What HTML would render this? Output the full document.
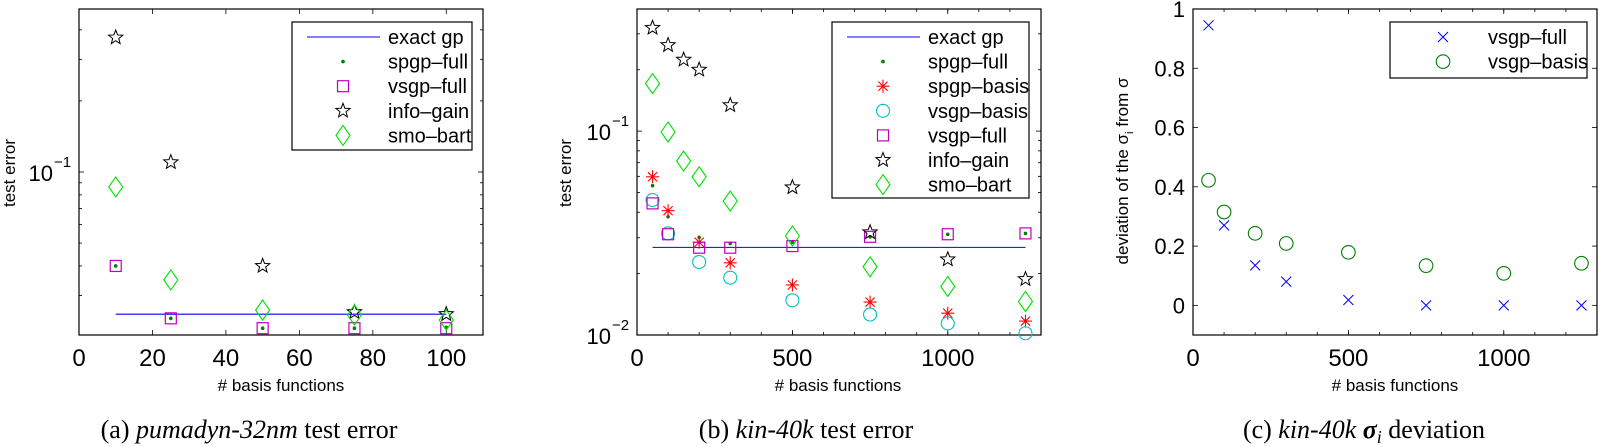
<!DOCTYPE html>
<html><head><meta charset="utf-8"><style>
body{margin:0;background:#fff;}
svg{display:block;font-family:"Liberation Sans",sans-serif;}
</style></head><body>
<svg id="s" width="1620" height="447" viewBox="0 0 1620 447" xmlns="http://www.w3.org/2000/svg"></svg>
<script>
// ---- panel a data ----
const aX = [10, 25, 50, 75, 100];
const aExact = 0.025;
const aSpgpFull = [0.040, 0.024, 0.0218, 0.0218, 0.022];
const aVsgpFull = [0.040, 0.024, 0.0218, 0.0218, 0.0218];
const aInfoGain = [0.371, 0.110, 0.040, 0.0255, 0.025];
const aSmoBart = [0.0864, 0.0349, 0.026, 0.0248, 0.0236];
// ---- panel b data ----
const bX = [50, 100, 200, 300, 500, 750, 1000, 1250];
const bXstar = [50, 100, 150, 200, 300, 500, 750, 1000, 1250];
const bExact = 0.0269;
const bSpgpFull = [0.054, 0.038, 0.0301, 0.0281, 0.0285, 0.0303, 0.0312, 0.0315];
const bSpgpBasis = [0.0597, 0.0407, 0.0285, 0.0226, 0.0176, 0.0145, 0.0128, 0.0117];
const bVsgpBasis = [0.0459, 0.0315, 0.0228, 0.0191, 0.0148, 0.0126, 0.0114, 0.0102];
const bVsgpFull = [0.0442, 0.0312, 0.0268, 0.0268, 0.0273, 0.0303, 0.0312, 0.0315];
const bInfoGain = [0.321, 0.264, 0.224, 0.2, 0.134, 0.053, 0.0319, 0.0235, 0.0188];
const bSmoBart = [0.171, 0.099, 0.0713, 0.0597, 0.0454, 0.0306, 0.0216, 0.0173, 0.0146];
// ---- panel c data ----
const cX = [50, 100, 200, 300, 500, 750, 1000, 1250];
const cVsgpFull = [0.945, 0.27, 0.135, 0.08, 0.018, 0, 0, 0];
const cVsgpBasis = [0.422, 0.315, 0.243, 0.209, 0.179, 0.134, 0.108, 0.142];
// tick labels
const aXTicks = [0, 20, 40, 60, 80, 100];
const bXTicks = [0, 500, 1000];
const cXTicks = [0, 500, 1000];
const cYTicks = [0, 0.2, 0.4, 0.6, 0.8, 1];

const NS = "http://www.w3.org/2000/svg";
const svg = document.getElementById('s');
function el(tag, attrs, parent, name) {
  const e = document.createElementNS(NS, tag);
  for (const k in attrs) e.setAttribute(k, attrs[k]);
  
  
  (parent || svg).appendChild(e);
  return e;
}
function marker(type, x, y, g, name) {
  const m = el('g', {}, g, name);
  if (type === 'dot') el('circle', {cx:x, cy:y, r:1.8, fill:'#007f00'}, m, name+'-dot');
  else if (type === 'square') el('rect', {x:x-5.5, y:y-5.5, width:11, height:11, fill:'none', stroke:'#bf00bf', 'stroke-width':1.2}, m, name+'-square');
  else if (type === 'circle') el('circle', {cx:x, cy:y, r:6.5, fill:'none', stroke:'#00bfbf', 'stroke-width':1.1}, m, name+'-circle');
  else if (type === 'gcircle') el('circle', {cx:x, cy:y, r:6.8, fill:'none', stroke:'#007f00', 'stroke-width':1.1}, m, name+'-circle');
  else if (type === 'diamond') el('path', {d:`M${x} ${y-10}L${x+7} ${y}L${x} ${y+10}L${x-7} ${y}Z`, fill:'none', stroke:'#00e000', 'stroke-width':1.1}, m, name+'-diamond');
  else if (type === 'star') {
    let d = '';
    for (let i = 0; i < 10; i++) {
      const r = i % 2 ? 3.2 : 7.5, a = -Math.PI/2 + i*Math.PI/5;
      d += (i ? 'L' : 'M') + (x + r*Math.cos(a)).toFixed(2) + ' ' + (y + r*Math.sin(a)).toFixed(2);
    }
    el('path', {d:d+'Z', fill:'none', stroke:'#000', 'stroke-width':1}, m, name+'-star');
  } else if (type === 'ast') {
    let d = '';
    for (let i = 0; i < 4; i++) {
      const a = i*Math.PI/4;
      d += `M${x-6.5*Math.cos(a)} ${y-6.5*Math.sin(a)}L${x+6.5*Math.cos(a)} ${y+6.5*Math.sin(a)}`;
    }
    el('path', {d:d, stroke:'#ff0000', 'stroke-width':1.1}, m, name+'-asterisk');
  } else if (type === 'cross') {
    el('path', {d:`M${x-5} ${y-5}L${x+5} ${y+5}M${x-5} ${y+5}L${x+5} ${y-5}`, stroke:'#0000ff', 'stroke-width':1}, m, name+'-cross');
  }
}
function panel(o) {
  const g = el('g', {}, svg, o.name);
  const {x0, x1, y0, y1} = o;
  const sx = v => x0 + (v - o.xmin) / (o.xmax - o.xmin) * (x1 - x0);
  const sy = o.log
    ? v => y1 - (Math.log10(v) - Math.log10(o.ymin)) / (Math.log10(o.ymax) - Math.log10(o.ymin)) * (y1 - y0)
    : v => y1 - (v - o.ymin) / (o.ymax - o.ymin) * (y1 - y0);
  el('rect', {x:x0, y:y0, width:x1-x0, height:y1-y0, fill:'#fff', stroke:'#000', 'stroke-width':1.2}, g, 'plot-area');
  const tk = el('g', {stroke:'#000', 'stroke-width':0.8}, g, 'ticks');
  o.xticks.forEach(v => {
    const X = sx(v);
    el('line', {x1:X, y1:y1, x2:X, y2:y1-5}, tk, 'x-tick');
    el('line', {x1:X, y1:y0, x2:X, y2:y0+5}, tk, 'x-tick');
    const t = el('text', {x:X, y:366, 'font-size':24, 'text-anchor':'middle', fill:'#000', stroke:'none'}, g, 'x-tick-label');
    t.textContent = v;
  });
  if (o.xminor) for (let v = o.xminor; v < o.xmax; v += o.xminor) {
    const X = sx(v);
    el('line', {x1:X, y1:y1, x2:X, y2:y1-3}, tk, 'x-minor-tick');
    el('line', {x1:X, y1:y0, x2:X, y2:y0+3}, tk, 'x-minor-tick');
  }
  if (o.log) {
    for (let e = -3; e <= 0; e++) for (let m = 1; m <= 9; m++) {
      const v = m * Math.pow(10, e);
      if (v < o.ymin * 0.999 || v > o.ymax) continue;
      const Y = sy(v), L = m === 1 ? 5 : 3;
      el('line', {x1:x0, y1:Y, x2:x0+L, y2:Y}, tk, 'y-tick');
      el('line', {x1:x1, y1:Y, x2:x1-L, y2:Y}, tk, 'y-tick');
    }
    o.ylabels.forEach(e => {
      const Y = sy(Math.pow(10, e));
      const t = el('text', {x:x0-26, y:Y+9, 'font-size':22, 'text-anchor':'end', fill:'#000'}, g, 'y-tick-label');
      t.textContent = '10';
      const s = el('text', {x:x0-25, y:Y-5, 'font-size':15, fill:'#000'}, g, 'y-tick-exponent');
      s.textContent = '\u2212' + (-e);
    });
  } else {
    o.yticks.forEach(v => {
      const Y = sy(v);
      el('line', {x1:x0, y1:Y, x2:x0+5, y2:Y}, tk, 'y-tick');
      el('line', {x1:x1, y1:Y, x2:x1-5, y2:Y}, tk, 'y-tick');
      const t = el('text', {x:x0-8, y:Y+8, 'font-size':22, 'text-anchor':'end', fill:'#000'}, g, 'y-tick-label');
      t.textContent = v;
    });
  }
  const xl = el('text', {x:o.xlx, y:391, 'font-size':17, 'text-anchor':'middle', fill:'#000'}, g, 'x-axis-title');
  xl.textContent = '# basis functions';
  const yl = el('text', {x:0, y:0, 'font-size':17, 'text-anchor':'middle', fill:'#000', transform:`translate(${o.ylx},${o.yly}) rotate(-90)`}, g, 'y-axis-title');
  if (o.ylabelHTML) {
    yl.appendChild(document.createTextNode('deviation of the \u03c3'));
    const sub = el('tspan', {dy:5, 'font-size':11}, yl, 'y-title-subscript'); sub.textContent = 'i';
    const rest = el('tspan', {dy:-5}, yl, 'y-title-rest'); rest.textContent = ' from \u03c3';
  } else yl.textContent = o.ylabel;
  const cap = el('text', {x:o.capx, y:438, 'font-size':26, 'text-anchor':'middle', fill:'#000', 'font-family':'"Liberation Serif",serif'}, g, 'caption');
  let pendingDy = 0;
  o.caption.forEach(([txt, it, b, sub]) => {
    const a = it ? {'font-style':'italic'} : (b ? {'font-weight':'bold','font-style':'italic'} : {});
    if (sub) { a.dy = 5; a['font-size'] = 18; pendingDy = -5; }
    else if (pendingDy) { a.dy = pendingDy; pendingDy = 0; }
    const ts = el('tspan', a, cap, 'caption-part');
    ts.textContent = txt;
  });
  o.series.forEach(s => {
    const sg = el('g', {}, g, 'series-' + s.label);
    if (s.type === 'line') {
      el('line', {x1:sx(s.from), y1:sy(s.value), x2:sx(s.to), y2:sy(s.value), stroke:'#0000ff', 'stroke-width':1.1}, sg, 'exact-gp-line');
    } else s.ys.forEach((v, i) => marker(s.type, sx(s.xs[i]), sy(v), sg, s.label + '-point'));
  });
  const lg = el('g', {}, g, 'legend');
  el('rect', {x:o.lx0, y:22, width:o.lw, height:o.lh, fill:'#fff', stroke:'#000', 'stroke-width':1.2}, lg, 'legend-box');
  o.series.forEach((s, i) => {
    const Y = 37 + i * 24.6;
    const en = el('g', {}, lg, 'legend-entry');
    if (s.type === 'line') el('line', {x1:o.lmx-36, y1:Y, x2:o.lmx+37, y2:Y, stroke:'#0000ff', 'stroke-width':1.1}, en, 'legend-line');
    else marker(s.type, o.lmx, Y, en, 'legend-marker');
    const t = el('text', {x:o.ltx, y:Y+7, 'font-size':20, fill:'#000'}, en, 'legend-label');
    t.textContent = s.label;
  });
}
panel({name:'panel-a', x0:79, x1:483, y0:9, y1:335, xmin:0, xmax:110, ymin:0.0204, ymax:0.49, log:true,
  xticks:aXTicks, ylabels:[-1], ylabel:'test error', xlx:281, ylx:15, yly:173, capx:249,
  caption:[['(a) ',0],['pumadyn-32nm',1],[' test error',0]],
  lx0:292, lw:180, lh:128, lmx:343, ltx:388,
  series:[
    {label:'exact gp', type:'line', value:aExact, from:10, to:100},
    {label:'spgp\u2013full', type:'dot', xs:aX, ys:aSpgpFull},
    {label:'vsgp\u2013full', type:'square', xs:aX, ys:aVsgpFull},
    {label:'info\u2013gain', type:'star', xs:aX, ys:aInfoGain},
    {label:'smo\u2013bart', type:'diamond', xs:aX, ys:aSmoBart}]});
panel({name:'panel-b', x0:637, x1:1041, y0:9, y1:335, xmin:0, xmax:1300, ymin:0.01, ymax:0.397, log:true,
  xticks:bXTicks, xminor:100, ylabels:[-1,-2], ylabel:'test error', xlx:838, ylx:571, yly:173, capx:806,
  caption:[['(b) ',0],['kin-40k',1],[' test error',0]],
  lx0:832, lw:197, lh:176, lmx:883, ltx:928,
  series:[
    {label:'exact gp', type:'line', value:bExact, from:50, to:1250},
    {label:'spgp\u2013full', type:'dot', xs:bX, ys:bSpgpFull},
    {label:'spgp\u2013basis', type:'ast', xs:bX, ys:bSpgpBasis},
    {label:'vsgp\u2013basis', type:'circle', xs:bX, ys:bVsgpBasis},
    {label:'vsgp\u2013full', type:'square', xs:bX, ys:bVsgpFull},
    {label:'info\u2013gain', type:'star', xs:bXstar, ys:bInfoGain},
    {label:'smo\u2013bart', type:'diamond', xs:bXstar, ys:bSmoBart}]});
panel({name:'panel-c', x0:1193, x1:1597, y0:9, y1:335, xmin:0, xmax:1300, ymin:-0.1, ymax:1, log:false,
  xticks:cXTicks, xminor:100, yticks:cYTicks, ylabelHTML:true, xlx:1395, ylx:1128, yly:171, capx:1364,
  caption:[['(c) ',0],['kin-40k ',1],['\u03c3',0,1],['i',1,0,1],[' deviation',0]],
  lx0:1390, lw:197, lh:56, lmx:1443, ltx:1488,
  series:[
    {label:'vsgp\u2013full', type:'cross', xs:cX, ys:cVsgpFull},
    {label:'vsgp\u2013basis', type:'gcircle', xs:cX, ys:cVsgpBasis}]});
</script>
</body></html>
